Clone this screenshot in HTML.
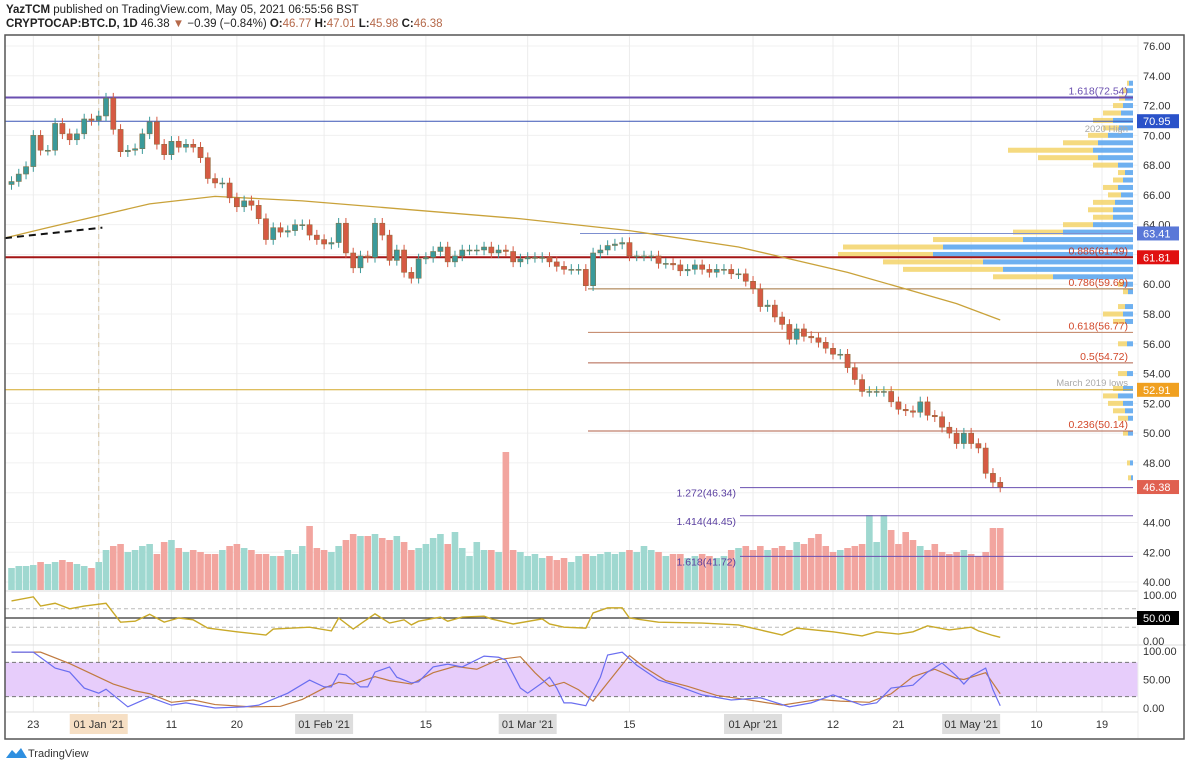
<!DOCTYPE html>
<html><head><meta charset="utf-8"><style>
body{margin:0;background:#fff;width:1186px;height:768px;overflow:hidden;font-family:"Liberation Sans",sans-serif}
svg text{font-family:"Liberation Sans",sans-serif}
</style></head><body>
<svg id="c" width="1186" height="768" xmlns="http://www.w3.org/2000/svg">
<rect x="0" y="0" width="1186" height="768" fill="#fff"/>
<text x="6" y="13" font-size="11.5" fill="#222"><tspan font-weight="bold">YazTCM</tspan> published on TradingView.com, May 05, 2021 06:55:56 BST</text>
<text x="6" y="27" font-size="11.5" fill="#222"><tspan font-weight="bold">CRYPTOCAP:BTC.D, 1D</tspan> 46.38 <tspan fill="#b5694a">▼</tspan> −0.39 (−0.84%) <tspan font-weight="bold">O:</tspan><tspan fill="#b5694a">46.77</tspan> <tspan font-weight="bold">H:</tspan><tspan fill="#b5694a">47.01</tspan> <tspan font-weight="bold">L:</tspan><tspan fill="#b5694a">45.98</tspan> <tspan font-weight="bold">C:</tspan><tspan fill="#b5694a">46.38</tspan></text>
<g id="grid"></g>
<g id="profile"></g>
<g id="vol"></g>
<g id="levels"></g>
<g id="ma"></g>
<g id="candles"></g>
<g id="ind"></g>
<g id="axes"></g>
<rect x="5" y="35" width="1179" height="704" fill="none" stroke="#555" stroke-width="1.5"/>
<g><path d="M6 758 l6 -8 l4 4 l5 -6 l6 10 z" fill="#2e8fe0"/><text x="28" y="757" font-size="11" fill="#333">TradingView</text></g>
</svg>
<script>
// ---- data (index 0 = 20 Dec 2020, daily) ----
const closes=[66.9,67.4,67.9,70.0,69.0,69.0,70.8,70.1,69.7,70.1,71.1,71.0,
71.3,72.5,70.4,68.9,69.0,69.1,70.1,70.9,69.4,68.7,69.6,69.2,69.4,69.2,68.5,67.1,66.8,66.8,65.8,65.2,65.6,65.3,64.4,63.0,63.8,63.5,63.6,64.0,64.0,63.3,63.0,62.7,62.8,64.1,62.1,61.1,61.9,61.8,64.1,63.3,61.6,62.3,60.8,60.4,61.7,61.8,62.2,62.5,61.5,61.9,62.3,62.3,62.3,62.5,62.1,62.3,62.2,61.5,61.7,61.8,61.8,61.8,61.5,61.2,61.0,61.0,61.0,59.9,
62.1,62.3,62.6,62.7,62.8,61.9,61.9,61.9,61.9,61.4,61.4,61.3,60.9,61.0,61.3,61.0,60.8,61.0,61.0,60.7,60.7,60.2,59.7,58.5,58.6,57.8,57.3,56.3,57.0,56.5,56.4,56.1,55.7,55.3,55.3,54.4,53.6,52.8,52.8,52.8,52.8,52.1,51.6,51.5,51.4,52.1,51.2,51.1,50.4,50.0,49.3,50.0,49.3,49.0,47.3,46.7,46.38];
const volumes=[22,24,24,25,28,26,28,30,28,26,24,22,
28,40,44,46,38,40,44,46,36,48,50,42,38,40,38,36,36,40,44,46,42,40,36,36,34,34,40,36,44,64,42,
40,38,44,50,56,54,54,56,52,50,54,48,40,42,46,52,56,46,58,42,34,48,40,40,38,138,40,38,
34,36,32,34,30,32,28,34,36,34,36,38,36,38,40,38,44,40,38,34,36,36,32,34,36,34,32,34,40,42,44,
40,44,40,42,44,40,48,46,52,56,44,38,40,42,44,46,75,48,75,60,46,58,50,44,40,46,38,36,38,40,
36,34,38,62,62];
const maDays=[-1,5,12,19,28,40,55,70,85,100,115,130,136];
const maVals=[63.1,63.8,64.6,65.4,65.9,65.6,65.0,64.4,63.6,62.5,60.8,58.7,57.6];
const rsiDays=[0,3,4,6,8,10,13,15,17,19,21,23,25,27,31,35,36,41,44,45,47,48,50,52,54,55,56,59,60,62,65,66,69,73,74,76,79,80,82,84,85,89,95,100,103,106,108,113,117,119,122,124,126,129,132,133,135,136];
const rsiVals=[87,96,76,82,70,76,82,41,43,58,41,50,46,28,20,13,26,30,22,50,26,37,59,39,46,35,43,52,43,52,54,48,37,48,37,30,28,61,72,72,50,41,39,35,24,13,28,20,11,20,15,20,33,24,30,22,12,8];
const kDays=[0,3,6,8,10,12,13,16,19,22,24,28,32,34,38,41,43,44,45,46,48,49,50,52,53,55,56,58,60,62,65,67,68,70,71,73,74,75,76,77,79,81,82,84,86,89,92,95,99,103,107,110,113,115,117,119,121,124,126,128,130,131,132,134,135,136];
const kVals=[98,98,70,63,35,26,33,2,19,5,9,0,2,5,26,49,37,37,60,58,37,37,63,72,54,44,46,72,77,72,91,89,84,35,26,44,54,35,9,9,4,54,93,98,75,49,37,23,14,18,2,9,23,14,5,9,35,40,63,79,56,42,56,70,32,4];
const dDays=[0,4,8,11,14,17,19,22,25,28,33,37,40,43,45,47,50,52,55,58,61,64,67,70,72,74,76,78,80,83,85,87,90,93,97,101,106,111,114,118,121,124,127,130,131,134,136];
const dVals=[98,98,78,60,42,30,25,10,14,6,2,3,15,35,45,42,55,48,42,62,73,68,85,90,62,38,45,32,12,60,92,72,48,38,22,15,5,15,12,10,25,55,68,52,50,62,25];
const vpPrices=[73.5,73,72.5,72,71.5,71,70.5,70,69.5,69,68.5,68,67.5,67,66.5,66,65.5,65,64.5,64,63.5,63,62.5,62,61.5,61,60.5,60,59.5,58.5,58,57.5,56,54,53,52.5,52,51.5,51,50,48,47];
const vpTotal=[6,10,14,20,30,40,30,45,70,125,95,40,15,20,30,25,40,45,40,70,120,200,290,295,250,230,140,15,10,15,30,20,15,15,20,30,25,20,15,10,6,5];
const vpBlue=[4,6,8,10,12,20,14,25,35,40,35,15,8,10,15,12,18,20,20,40,70,110,190,200,150,130,80,10,5,8,10,8,6,6,10,15,10,8,5,5,3,2];
const priceTicks=[76,74,72,70,68,66,64,62,60,58,56,54,52,50,48,44,42,40];
const dateTicks=[{d:3,t:"23"},{d:12,t:"01 Jan '21",box:"#f6dfc4"},{d:22,t:"11"},{d:31,t:"20"},{d:43,t:"01 Feb '21",box:"#ddd"},{d:57,t:"15"},{d:71,t:"01 Mar '21",box:"#ddd"},{d:85,t:"15"},{d:102,t:"01 Apr '21",box:"#ddd"},{d:113,t:"12"},{d:122,t:"21"},{d:132,t:"01 May '21",box:"#ddd"},{d:141,t:"10"},{d:150,t:"19"}];

// ---- scales ----
const X=i=>11.5+i*7.27;
const Y=p=>46+(76-p)*14.89;
const RY=v=>641-v*0.46;
const SY=v=>708-v*0.57;
const NS="http://www.w3.org/2000/svg";
function mk(tag,attrs,parent,txt){const e=document.createElementNS(NS,tag);for(const k in attrs)e.setAttribute(k,attrs[k]);if(txt!==undefined)e.textContent=txt;document.getElementById(parent).appendChild(e);return e;}

// grid
priceTicks.concat([46]).forEach(p=>{const l=mk('line',{x1:5,x2:1138,y1:Y(p),y2:Y(p),stroke:'#f0f0f0'},'grid');

});
dateTicks.forEach(t=>{const l=mk('line',{x1:X(t.d),x2:X(t.d),y1:36,y2:712,stroke:'#ececec'},'grid');

});
mk('line',{x1:X(12),x2:X(12),y1:36,y2:712,stroke:'#d8c7a8','stroke-dasharray':'5,4'},'grid');

// volume profile
vpPrices.forEach((p,i)=>{const y=Y(p)-2.5;
const a=mk('rect',{x:1133-vpTotal[i],y:y,width:vpTotal[i]-vpBlue[i],height:5,fill:'#f3d46a',opacity:0.85},'profile');


const b=mk('rect',{x:1133-vpBlue[i],y:y,width:vpBlue[i],height:5,fill:'#5ea7ee',opacity:0.9},'profile');

});

// levels
const lv=[[72.54,5,'#6a4fb0',2,'1.618(72.54)','#6a4fb0'],[70.95,5,'#3a55b5',1,'',''],[63.41,580,'#7d8fd0',1,'',''],[61.81,5,'#a31515',2,'0.886(61.49)','#c0392b'],[59.69,588,'#a0703a',1,'0.786(59.69)','#d2482a'],[56.77,588,'#c08060',1,'0.618(56.77)','#d2482a'],[54.72,588,'#b0604a',1,'0.5(54.72)','#d2482a'],[52.91,5,'#d4a92a',1,'',''],[50.14,588,'#b0604a',1,'0.236(50.14)','#d2482a'],[46.34,740,'#6a4fb0',1,'',''],[44.45,740,'#6a4fb0',1,'',''],[41.72,740,'#6a4fb0',1,'','']];
lv.forEach(l=>{const e=mk('line',{x1:l[1],x2:1133,y1:Y(l[0]),y2:Y(l[0]),stroke:l[2],'stroke-width':l[3]},'levels');


if(l[4]){const t=mk('text',{x:1128,y:Y(l[0])-3,'font-size':10.5,fill:l[5],'text-anchor':'end'},'levels',l[4]);

}});
[[46.34,'1.272(46.34)'],[44.45,'1.414(44.45)'],[41.72,'1.618(41.72)']].forEach(a=>{const t=mk('text',{x:736,y:Y(a[0])+9,'font-size':10.5,fill:'#5a3fa0','text-anchor':'end'},'levels',a[1]);

});
mk('text',{x:1128,y:Y(70.95)+11,'font-size':9.5,fill:'#aaa','text-anchor':'end'},'levels','2020 High');
mk('text',{x:1128,y:Y(52.91)-4,'font-size':9.5,fill:'#aaa','text-anchor':'end'},'levels','March 2019 lows');

// volume
volumes.forEach((v,i)=>{const up=closes[i]>=(i?closes[i-1]:closes[i]);
const r=mk('rect',{x:X(i)-3.3,y:590-v,width:6.6,height:v,fill:up?'#9fd8d0':'#f2a59f'},'vol');

});

// MA
let d='';maDays.forEach((m,i)=>{d+=(i?'L':'M')+X(m)+' '+Y(maVals[i]);});
const ma=mk('path',{d:d,fill:'none',stroke:'#c9a23a','stroke-width':1.3},'ma');


const dl=mk('line',{x1:5,y1:Y(63.1),x2:X(12.5),y2:Y(63.8),stroke:'#111','stroke-width':2,'stroke-dasharray':'7,5'},'ma');



// candles
closes.forEach((c,i)=>{const o=i?closes[i-1]:c-0.2;const up=c>=o;
const col=up?'#3a9a9a':'#d65a43';const hi=Math.max(o,c)+0.35,lo=Math.min(o,c)-0.35;
const w=mk('line',{x1:X(i),x2:X(i),y1:Y(hi),y2:Y(lo),stroke:col},'candles');


const b=mk('rect',{x:X(i)-2.6,y:Y(Math.max(o,c)),width:5.2,height:Math.max(1,Math.abs(Y(o)-Y(c))),fill:col,stroke:'#8a6a3a','stroke-width':0.5},'candles');

});

// RSI panel
mk('line',{x1:5,x2:1138,y1:591,y2:591,stroke:'#ddd'},'ind');
[RY(70),RY(30)].forEach(y=>mk('line',{x1:5,x2:1138,y1:y,y2:y,stroke:'#bbb','stroke-dasharray':'4,3'},'ind'));
mk('line',{x1:5,x2:1138,y1:RY(50),y2:RY(50),stroke:'#333','stroke-width':1.2},'ind');
d='';rsiDays.forEach((m,i)=>{d+=(i?'L':'M')+X(m)+' '+RY(rsiVals[i]);});
const rs=mk('path',{d:d,fill:'none',stroke:'#c9a928','stroke-width':1.4},'ind');


// Stoch RSI panel
mk('line',{x1:5,x2:1186,y1:645,y2:645,stroke:'#ddd'},'ind');
const band=mk('rect',{x:5,y:SY(80),width:1133,height:SY(20)-SY(80),fill:'#e7cdfb'},'ind');


[SY(80),SY(20)].forEach(y=>mk('line',{x1:5,x2:1138,y1:y,y2:y,stroke:'#777','stroke-dasharray':'4,3'},'ind'));
d='';dDays.forEach((m,i)=>{d+=(i?'L':'M')+X(m)+' '+SY(dVals[i]);});
const dp=mk('path',{d:d,fill:'none',stroke:'#c07a40','stroke-width':1.2},'ind');


d='';kDays.forEach((m,i)=>{d+=(i?'L':'M')+X(m)+' '+SY(kVals[i]);});
const kp=mk('path',{d:d,fill:'none',stroke:'#6a6ef0','stroke-width':1.2},'ind');



// axes
mk('line',{x1:1138,x2:1138,y1:36,y2:738,stroke:'#eee'},'axes');
mk('line',{x1:5,x2:1138,y1:712,y2:712,stroke:'#ddd'},'axes');
priceTicks.forEach(p=>{const t=mk('text',{x:1143,y:Y(p)+4,'font-size':11,fill:'#333'},'axes',p.toFixed(2));

});
[[100,'100.00'],[50,'50.00'],[0,'0.00']].forEach(a=>{mk('text',{x:1143,y:RY(a[0])+4,'font-size':11,fill:'#333'},'axes',a[1]);mk('text',{x:1143,y:SY(a[0])+4,'font-size':11,fill:'#333'},'axes',a[1]);});
const boxes=[[70.95,'#2a52c9','70.95'],[63.41,'#5a78d8','63.41'],[61.81,'#e01010','61.81'],[52.91,'#f0a020','52.91'],[46.38,'#e06050','46.38']];
boxes.forEach(b=>{const r=mk('rect',{x:1137,y:Y(b[0])-7,width:42,height:14,fill:b[1]},'axes');


mk('text',{x:1143,y:Y(b[0])+4,'font-size':11,fill:'#fff'},'axes',b[2]);});
mk('rect',{x:1137,y:RY(50)-7,width:42,height:14,fill:'#000'},'axes');
mk('text',{x:1143,y:RY(50)+4,'font-size':11,fill:'#fff'},'axes','50.00');
dateTicks.forEach(t=>{const x=X(t.d);
if(t.box){mk('rect',{x:x-29,y:714,width:58,height:20,fill:t.box},'axes');}
const e=mk('text',{x:x,y:728,'font-size':11,fill:'#333','text-anchor':'middle'},'axes',t.t);

});
</script>
</body></html>
